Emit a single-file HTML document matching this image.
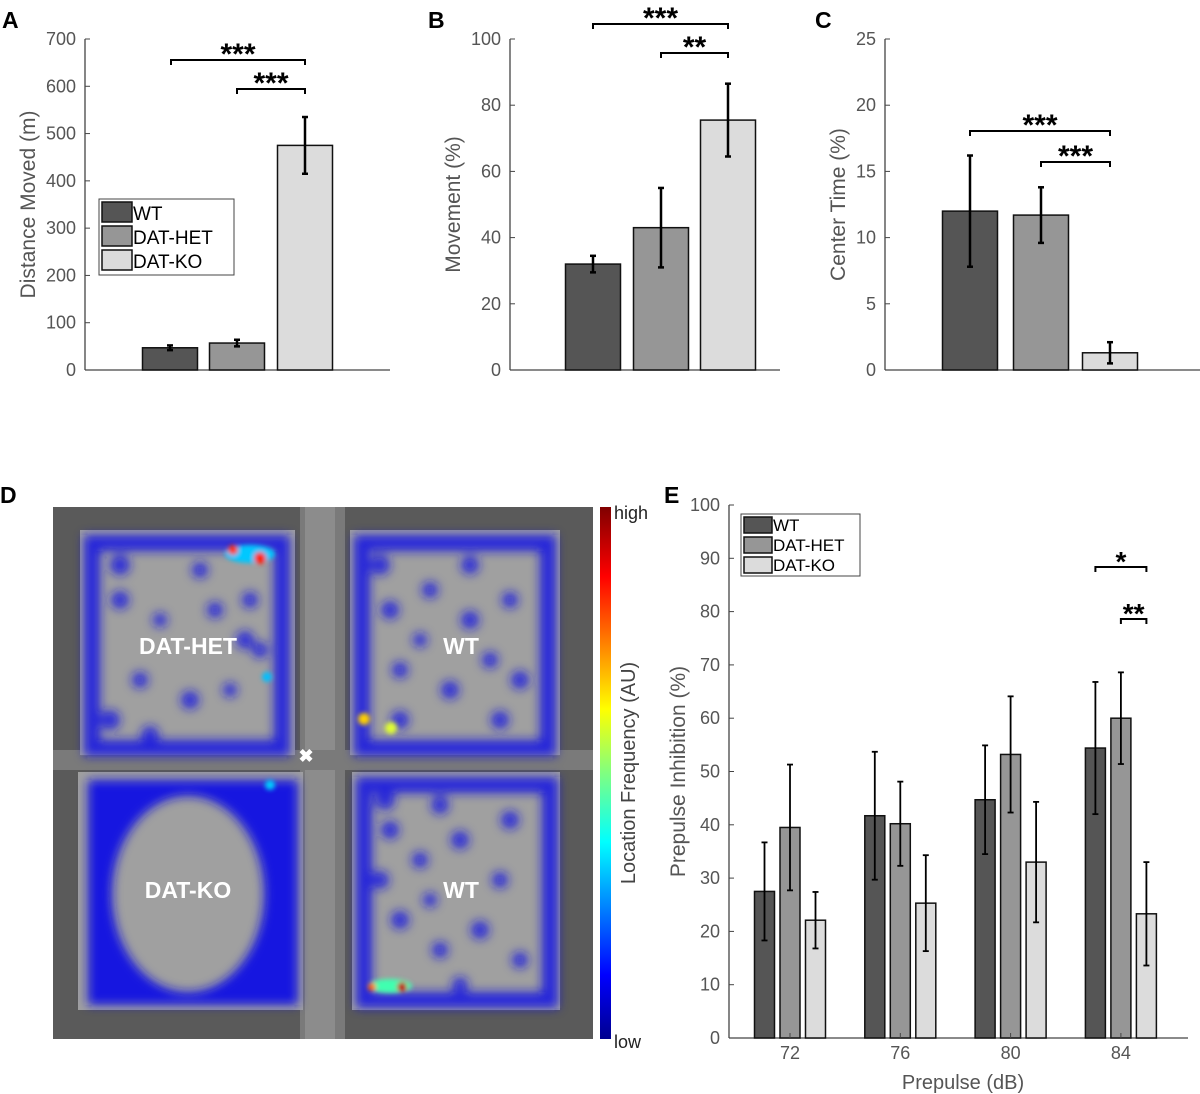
<!DOCTYPE html>
<html><head><meta charset="utf-8"><style>
body{margin:0;background:#fff;}
svg{display:block;font-family:"Liberation Sans",sans-serif;}
</style></head><body>
<svg id="fig" width="1200" height="1094" viewBox="0 0 1200 1094">
<defs>
<filter id="blur" x="-20%" y="-20%" width="140%" height="140%"><feGaussianBlur stdDeviation="5"/></filter>
<filter id="blur2"><feGaussianBlur stdDeviation="2.5"/></filter>
<linearGradient id="jet" x1="0" y1="1" x2="0" y2="0">
<stop offset="0" stop-color="#00008f"/><stop offset="0.12" stop-color="#0000ff"/><stop offset="0.37" stop-color="#00ffff"/><stop offset="0.5" stop-color="#80ff80"/><stop offset="0.62" stop-color="#ffff00"/><stop offset="0.87" stop-color="#ff0000"/><stop offset="1" stop-color="#800000"/>
</linearGradient>
</defs>
<g id="heatmap">
<rect x="53" y="507" width="540" height="532" fill="#5a5a5a"/>
<rect x="300" y="507" width="45" height="532" fill="#7a7a7a"/>
<rect x="305" y="507" width="30" height="532" fill="#8c8c8c"/>
<rect x="53" y="750" width="540" height="20" fill="#7a7a7a"/>
<rect x="80" y="530" width="215" height="225" fill="#a0a0a0"/>
<rect x="350" y="530" width="210" height="225" fill="#a0a0a0"/>
<rect x="78" y="772" width="225" height="238" fill="#a0a0a0"/>
<rect x="352" y="772" width="208" height="238" fill="#a0a0a0"/>
<g filter="url(#blur)">
<rect x="92" y="543" width="190" height="205" fill="none" stroke="#1a1ae0" stroke-width="16" opacity="0.9"/>
<rect x="362" y="543" width="186" height="205" fill="none" stroke="#1a1ae0" stroke-width="16" opacity="0.9"/>
<path d="M88,780 L298,780 L298,1005 L88,1005 Z M188,796 a76,98 0 1,0 0.1,0 Z" fill="#1414e0" fill-rule="evenodd"/>
<rect x="364" y="785" width="186" height="215" fill="none" stroke="#1a1ae0" stroke-width="16" opacity="0.9"/>
<g fill="#1a1ae0" opacity="0.85">
<circle cx="120" cy="600" r="9"/><circle cx="160" cy="620" r="7"/><circle cx="215" cy="610" r="8"/><circle cx="245" cy="640" r="9"/><circle cx="140" cy="680" r="8"/><circle cx="190" cy="700" r="9"/><circle cx="230" cy="690" r="7"/><circle cx="260" cy="650" r="8"/><circle cx="120" cy="565" r="10"/><circle cx="200" cy="570" r="8"/><circle cx="110" cy="720" r="10"/><circle cx="150" cy="735" r="9"/><circle cx="250" cy="600" r="8"/>
<circle cx="390" cy="610" r="9"/><circle cx="430" cy="590" r="8"/><circle cx="470" cy="620" r="9"/><circle cx="510" cy="600" r="8"/><circle cx="400" cy="670" r="8"/><circle cx="450" cy="690" r="9"/><circle cx="490" cy="660" r="8"/><circle cx="520" cy="680" r="9"/><circle cx="420" cy="640" r="7"/><circle cx="380" cy="565" r="10"/><circle cx="470" cy="565" r="9"/><circle cx="400" cy="720" r="9"/><circle cx="500" cy="720" r="9"/>
<circle cx="390" cy="830" r="9"/><circle cx="420" cy="860" r="8"/><circle cx="460" cy="840" r="9"/><circle cx="500" cy="880" r="8"/><circle cx="400" cy="920" r="9"/><circle cx="440" cy="950" r="8"/><circle cx="480" cy="930" r="9"/><circle cx="520" cy="960" r="8"/><circle cx="430" cy="900" r="7"/><circle cx="510" cy="820" r="9"/><circle cx="385" cy="800" r="10"/><circle cx="440" cy="805" r="9"/><circle cx="380" cy="880" r="9"/><circle cx="460" cy="985" r="8"/>
</g>
</g>
<g filter="url(#blur2)">
<ellipse cx="250" cy="554" rx="25" ry="9" fill="#00c8ff"/>
<circle cx="233" cy="550" r="5" fill="#ff3000"/><circle cx="260" cy="558" r="6" fill="#ff2000"/>
<circle cx="364" cy="719" r="6" fill="#ffd000"/><circle cx="391" cy="728" r="6" fill="#e0ff30"/>
<ellipse cx="390" cy="986" rx="22" ry="7" fill="#40ffb0"/>
<circle cx="372" cy="987" r="4" fill="#ff6000"/><circle cx="402" cy="987" r="5" fill="#c00000"/>
<circle cx="267" cy="677" r="5" fill="#00c0ff"/><circle cx="270" cy="785" r="5" fill="#00d0ff"/>
</g>
<text x="306" y="762" font-size="18" font-weight="bold" fill="#fff" text-anchor="middle">✖</text>
<g font-size="23" font-weight="bold" fill="#fff" text-anchor="middle">
<text x="188" y="654">DAT-HET</text>
<text x="461" y="654">WT</text>
<text x="188" y="898">DAT-KO</text>
<text x="461" y="898">WT</text>
</g>
<rect x="600" y="507" width="11" height="532" fill="url(#jet)"/>
<text x="614" y="519" font-size="18" fill="#222">high</text>
<text x="614" y="1048" font-size="18" fill="#222">low</text>
<text transform="translate(635,773) rotate(-90)" font-size="20" fill="#444" text-anchor="middle">Location Frequency (AU)</text>
</g>
<g font-size="23" font-weight="bold" fill="#000">
<text x="2" y="28">A</text>
<text x="428" y="28">B</text>
<text x="815" y="28">C</text>
<text x="0" y="503">D</text>
<text x="664" y="503">E</text>
</g>
</svg>
<script>
const groups = ["WT","DAT-HET","DAT-KO"];
const colors = ["#555555","#969696","#dcdcdc"];
const aValues = [47, 57, 475];
const aErrors = [5, 7, 60];
const aTicks = [0,100,200,300,400,500,600,700];
const bValues = [32, 43, 75.5];
const bErrors = [2.5, 12, 11];
const bTicks = [0,20,40,60,80,100];
const cValues = [12, 11.7, 1.3];
const cErrors = [4.2, 2.1, 0.8];
const cTicks = [0,5,10,15,20,25];
const eCategories = ["72","76","80","84"];
const eWT = [27.5, 41.7, 44.7, 54.4];
const eWTerr = [9.2, 12, 10.2, 12.4];
const eHET = [39.5, 40.2, 53.2, 60];
const eHETerr = [11.8, 7.9, 10.9, 8.6];
const eKO = [22.1, 25.3, 33, 23.3];
const eKOerr = [5.3, 9, 11.3, 9.7];
const eTicks = [0,10,20,30,40,50,60,70,80,90,100];

const NS="http://www.w3.org/2000/svg";
const svg=document.getElementById('fig');
function mk(tag,attrs,parent){const e=document.createElementNS(NS,tag);for(const k in attrs)e.setAttribute(k,attrs[k]);(parent||svg).appendChild(e);return e;}
function yScale(y0,y1,vmax){return v=>y0-(v/vmax)*(y0-y1);}

function axes(g,x0,x1,y,ticks,fs,tfs,title,titleX){
  const ax=mk('line',{x1:x0,y1:y(0),x2:x1,y2:y(0),stroke:'#444','stroke-width':1.3},g);
  
  
  const ay=mk('line',{x1:x0,y1:y(0),x2:x0,y2:y(ticks[ticks.length-1]),stroke:'#444','stroke-width':1.3},g);
  
  
  ticks.forEach(t=>{
    mk('line',{x1:x0,y1:y(t),x2:x0+5,y2:y(t),stroke:'#444'},g);
    const tx=mk('text',{x:x0-9,y:y(t)+6,'font-size':fs,fill:'#555','text-anchor':'end'},g);
    tx.textContent=t;
    
    
  });
  const yt=mk('text',{transform:`translate(${titleX},${(y(0)+y(ticks[ticks.length-1]))/2}) rotate(-90)`,'font-size':tfs,fill:'#555','text-anchor':'middle'},g);
  yt.textContent=title;
  
  
}
function bar(g,cx,w,v,err,y,color,sw,cap){
  const r=mk('rect',{x:cx-w/2,y:y(v),width:w,height:y(0)-y(v),fill:color,stroke:'#111','stroke-width':1.5},g);
  
  
  mk('line',{x1:cx,y1:y(v-err),x2:cx,y2:y(v+err),stroke:'#000','stroke-width':sw},g);
  mk('line',{x1:cx-cap,y1:y(v-err),x2:cx+cap,y2:y(v-err),stroke:'#000','stroke-width':sw},g);
  mk('line',{x1:cx-cap,y1:y(v+err),x2:cx+cap,y2:y(v+err),stroke:'#000','stroke-width':sw},g);
}
function sig(g,xa,xb,yy,label,fs){
  mk('path',{d:`M${xa},${yy+5} V${yy} H${xb} V${yy+5}`,fill:'none',stroke:'#000','stroke-width':2},g);
  const t=mk('text',{x:(xa+xb)/2,y:yy+4,'font-size':fs,'font-weight':'bold','text-anchor':'middle'},g);
  t.textContent=label;
  
  
}
function legend(g,x,y,w,h,rowH,sw,fs){
  const b=mk('rect',{x:x,y:y,width:w,height:h,fill:'#fff',stroke:'#444'},g);
  
  
  groups.forEach((name,i)=>{
    const s=mk('rect',{x:x+3,y:y+3+i*rowH,width:sw,height:rowH-4,fill:colors[i],stroke:'#111','stroke-width':1.5},g);
    
    
    const t=mk('text',{x:x+sw+4,y:y+rowH-3+i*rowH,'font-size':fs,fill:'#000'},g);
    t.textContent=name;
    
    
  });
}
function simplePanel(name,x0,x1,vmax,ticks,vals,errs,centers,title,titleX){
  const g=mk('g',{});
  
  
  const y=yScale(370,39,vmax);
  axes(g,x0,x1,y,ticks,18,21,title,titleX);
  vals.forEach((v,i)=>bar(g,centers[i],55,v,errs[i],y,colors[i],2.5,3));
  return {g,y};
}
// A
let A=simplePanel('panel-a-distance',85,390,700,aTicks,aValues,aErrors,[170,237,305],'Distance Moved (m)',35);
sig(A.g,171,305,60,'***',30); sig(A.g,237,305,89,'***',30);
legend(A.g,99,199,135,76,24,30,19);
// B
let B=simplePanel('panel-b-movement',510,780,100,bTicks,bValues,bErrors,[593,661,728],'Movement (%)',460);
sig(B.g,593,728,24,'***',30); sig(B.g,661,728,53,'**',30);
// C
let C=simplePanel('panel-c-center-time',885,1200,25,cTicks,cValues,cErrors,[970,1041,1110],'Center Time (%)',845);
sig(C.g,970,1110,131,'***',30); sig(C.g,1041,1110,162,'***',30);
// E
(function(){
  const g=mk('g',{});
  
  
  const y=yScale(1038,505,100);
  const xc=i=>790+i*110.3;
  axes(g,729,1188,y,eTicks,18,21,'Prepulse Inhibition (%)',685);
  const series=[[eWT,eWTerr],[eHET,eHETerr],[eKO,eKOerr]];
  eCategories.forEach((c,i)=>{
    series.forEach((s,j)=>bar(g,xc(i)+(j-1)*25.5,20,s[0][i],s[1][i],y,colors[j],1.8,3));
    mk('line',{x1:xc(i),y1:y(0),x2:xc(i),y2:y(0)-5,stroke:'#444'},g);
    const t=mk('text',{x:xc(i),y:1059,'font-size':18,fill:'#555','text-anchor':'middle'},g);
    t.textContent=c;
    
    
  });
  const xt=mk('text',{x:963,y:1089,'font-size':20,fill:'#555','text-anchor':'middle'},g);
  xt.textContent='Prepulse (dB)';
  
  
  const c3=xc(3);
  sig(g,c3-25.5,c3+25.5,567,'*',28); sig(g,c3,c3+25.5,619,'**',28);
  legend(g,741,514,119,62,20,28,17);
})();
</script>
</body></html>
